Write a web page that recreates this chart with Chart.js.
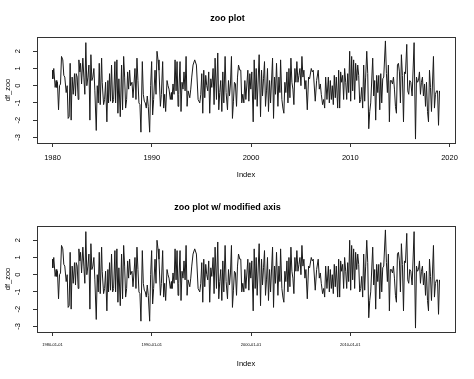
<!DOCTYPE html>
<html><head><meta charset="utf-8">
<script src="https://cdn.jsdelivr.net/npm/chart.js@4/dist/chart.umd.min.js"></script>
<style>
html,body{margin:0;padding:0;background:#fff;}
body{width:474px;height:379px;position:relative;overflow:hidden;}
.p{position:absolute;left:0;width:474px;height:190px;}
</style></head><body>
<div class="p" style="top:0"><canvas id="c1"></canvas></div>
<div class="p" style="top:189px"><canvas id="c2"></canvas></div>
<script>
const startYear = 1980;
const tOffsets = [0,0.03,0.13,0.27,0.37,0.44,0.50,0.61,0.71,0.81,0.91,1.04,1.14,1.24,1.38,1.48,1.58,1.68,1.78,1.88,1.98,2.09,2.22,2.32,2.39,2.49,2.59,2.66,2.76,2.83,2.93,3.06,3.16,3.26,3.36,3.46,3.57,3.67,3.77,3.87,3.97,4.07,4.17,4.27,4.41,4.51,4.61,4.71,4.81,4.95,5.01,5.15,5.25,5.35,5.48,5.58,5.65,5.75,5.85,5.95,6.06,6.16,6.29,6.36,6.49,6.59,6.69,6.83,6.96,7.06,7.17,7.27,7.37,7.47,7.57,7.67,7.77,7.87,8.01,8.11,8.21,8.31,8.41,8.51,8.61,8.71,8.81,8.91,9.05,9.15,9.25,9.35,9.45,9.55,9.65,9.79,9.89,9.99,10.09,10.19,10.33,10.43,10.53,10.63,10.73,10.87,10.97,11.10,11.20,11.30,11.40,11.54,11.64,11.74,11.87,11.98,12.04,12.14,12.25,12.35,12.45,12.55,12.65,12.72,12.85,12.95,13.05,13.15,13.25,13.36,13.46,13.56,13.66,13.83,13.93,14.03,14.16,14.33,14.50,14.67,14.84,14.94,15.04,15.14,15.24,15.34,15.44,15.54,15.64,15.74,15.84,15.95,16.05,16.18,16.28,16.38,16.52,16.65,16.75,16.85,16.95,17.06,17.16,17.26,17.39,17.49,17.63,17.73,17.83,17.93,18.03,18.13,18.23,18.33,18.43,18.54,18.64,18.74,18.87,18.97,19.07,19.17,19.28,19.38,19.48,19.68,19.78,19.88,19.98,20.08,20.22,20.32,20.42,20.52,20.62,20.82,20.96,21.06,21.16,21.26,21.36,21.46,21.56,21.66,21.76,21.87,21.97,22.17,22.27,22.37,22.47,22.57,22.71,22.81,22.91,22.98,23.11,23.21,23.31,23.41,23.51,23.62,23.72,23.82,23.92,24.02,24.12,24.22,24.32,24.42,24.52,24.62,24.73,24.83,24.93,25.03,25.13,25.23,25.33,25.43,25.53,25.67,25.80,25.90,26.07,26.17,26.27,26.47,26.61,26.77,26.88,26.98,27.08,27.21,27.32,27.42,27.52,27.65,27.79,27.89,27.99,28.09,28.19,28.29,28.39,28.49,28.59,28.73,28.83,28.93,29.03,29.13,29.23,29.33,29.43,29.54,29.64,29.74,29.84,29.94,30.04,30.14,30.24,30.34,30.44,30.54,30.65,30.75,30.85,30.95,31.05,31.15,31.25,31.35,31.45,31.55,31.66,31.76,31.86,31.96,32.06,32.26,32.36,32.46,32.56,32.66,32.77,32.87,32.97,33.07,33.17,33.27,33.37,33.54,33.64,33.74,33.84,33.94,34.04,34.14,34.25,34.35,34.45,34.55,34.65,34.75,34.85,34.95,35.05,35.15,35.25,35.36,35.46,35.56,35.69,35.79,35.89,35.99,36.10,36.23,36.43,36.57,36.67,36.77,36.87,36.97,37.07,37.17,37.27,37.37,37.48,37.58,37.68,37.78,37.88,37.98,38.08,38.18,38.38,38.48,38.58,38.69,38.79,38.89,38.99];
const values = [0.9,0.4,1.0,-0.1,0.3,-0.1,0.2,-1.4,0.0,0.1,1.7,1.5,0.6,0.5,-0.4,0.0,-1.9,-1.8,1.3,-2.0,0.5,-0.5,0.7,-0.6,0.7,0.5,-0.8,1.5,0.8,1.3,0.1,1.6,0.5,-0.5,2.5,0.0,0.5,1.2,-2.0,1.8,0.3,0.5,1.0,-0.3,-2.6,0.0,-1.0,1.3,-1.1,1.6,0.2,-1.1,-0.8,0.2,-2.1,0.3,-1.0,0.7,-0.9,1.2,-1.0,-0.8,1.4,-1.0,1.5,-1.6,0.4,-1.8,1.2,-1.4,1.7,0.5,-1.3,-0.8,0.8,-0.2,0.9,0.0,0.2,-0.7,0.1,1.0,-0.8,1.6,0.3,-1.0,-1.1,-2.7,1.4,-0.5,-0.9,-1.0,-1.3,-0.6,-1.2,-2.7,0.0,1.4,-1.7,-0.8,0.9,-0.5,2.0,1.5,0.9,-1.2,-0.5,1.4,-1.3,-0.5,-1.5,0.3,0.0,-0.2,-0.8,-0.4,-0.8,0.1,-0.5,1.5,-0.3,1.4,-1.2,-0.5,1.4,-1.5,0.2,-0.2,0.8,-0.3,1.7,-1.2,-0.3,-0.7,-0.2,0.5,1.2,1.5,1.2,-0.8,-1.0,-0.5,0.7,-1.6,0.9,-0.7,0.6,0.0,-0.3,0.8,-1.6,0.4,-0.1,1.0,-1.1,1.6,-0.8,1.9,-1.4,-0.4,0.3,-1.5,0.8,-1.0,1.7,-0.4,-1.4,0.3,-0.6,0.1,1.7,-1.9,-0.9,0.2,0.1,-1.2,0.5,1.2,0.9,0.9,-1.0,-0.5,-1.0,0.3,-0.8,0.9,-0.9,0.7,-0.2,0.8,-2.1,1.5,-0.8,1.0,-1.2,1.8,-1.8,0.9,-0.6,0.4,1.4,-1.2,-0.3,1.0,-1.5,0.3,-1.0,1.6,-1.9,0.5,-0.5,1.3,-1.2,0.5,-0.4,1.5,-0.8,-1.3,-1.6,0.2,-0.4,0.8,-1.0,1.0,-0.7,1.6,0.2,-0.2,-1.1,1.0,0.2,1.4,0.2,0.6,1.0,0.0,1.7,0.5,0.9,-0.2,0.3,-1.4,0.5,0.4,1.0,0.8,0.9,-0.9,0.3,0.9,-0.2,0.1,-0.5,-1.1,-0.8,-1.3,0.5,-0.8,0.5,-1.0,0.3,-0.8,0.0,-1.1,0.6,-0.7,0.5,-1.3,0.9,-1.3,0.8,0.2,0.6,-0.8,1.0,0.2,-0.8,0.7,-0.4,2.0,-0.9,1.7,-0.3,1.5,-0.8,1.3,0.3,1.2,0.6,-1.0,-0.8,-0.1,-1.3,1.2,-0.9,0.5,2.0,0.7,-2.5,-1.5,-1.0,1.6,-0.6,0.3,-2.0,0.6,-0.4,0.6,-1.4,0.7,-1.0,0.4,0.5,2.6,0.7,-0.4,1.2,-2.1,0.3,0.3,0.1,0.5,-0.2,-1.2,-1.6,1.2,1.3,0.8,-1.0,1.8,0.6,-2.1,0.8,0.7,2.4,-0.3,-0.5,0.3,0.2,-0.6,2.5,-3.1,0.5,0.2,0.3,0.8,-0.5,0.2,0.5,-0.6,0.1,-1.2,0.2,-1.5,-2.1,0.9,-0.1,-1.5,1.7,-1.3,-0.5,-0.3,-0.3,-2.3,-0.3];
const topTicks = [1980,1990,2000,2010,2020];
const topTickLabels = ['1980','1990','2000','2010','2020'];
const bottomTicks = [1980,1990,2000,2010];
const bottomTickLabels = ['1980-01-01','1990-01-01','2000-01-01','2010-01-01'];
const yTicks = [-3,-2,-1,0,1,2];
const yTickLabels = ['-3','-2','-1','0','1','2'];
const titles = ['zoo plot','zoo plot w/ modified axis'];
const yName = 'df_zoo';
const xName = 'Index';

const FONT = '"Liberation Sans", Arial, Helvetica, sans-serif';
const n = Math.min(tOffsets.length, values.length);
const points = [];
for (let i = 0; i < n; i++) points.push({x: startYear + tOffsets[i], y: values[i]});
const xs = points.map(p => p.x), ys = points.map(p => p.y);
const xLo = Math.min(...xs), xHi = Math.max(...xs);
const yLo = Math.min(...ys), yHi = Math.max(...ys);
const xPad = (xHi - xLo) * 0.04, yPad = (yHi - yLo) * 0.04;

const decor = {
  id: 'decor',
  afterDraw(chart) {
    const {ctx, chartArea: a, scales} = chart;
    ctx.save();
    ctx.strokeStyle = '#333';
    ctx.lineWidth = 1;
    ctx.strokeRect(a.left + 0.5, a.top + 0.5, a.right - a.left, a.bottom - a.top);
    ctx.fillStyle = '#000';
    ctx.font = '7.5px ' + FONT;
    ctx.textAlign = 'center';
    ctx.textBaseline = 'middle';
    yTicks.forEach((v, i) => {
      const py = scales.y.getPixelForValue(v);
      ctx.save();
      ctx.translate(18, py);
      ctx.rotate(-Math.PI / 2);
      ctx.fillText(yTickLabels[i], 0, 0);
      ctx.restore();
    });
    ctx.save();
    ctx.translate(8, (a.top + a.bottom) / 2);
    ctx.rotate(-Math.PI / 2);
    ctx.fillText(yName, 0, 0);
    ctx.restore();
    ctx.fillText(xName, (a.left + a.right) / 2, 175);
    ctx.restore();
  }
};

function makeChart(id, title, xt, xl, xFont) {
  return new Chart(document.getElementById(id), {
    type: 'line',
    data: {datasets: [{data: points, borderColor: '#1a1a1a', borderWidth: 1, pointRadius: 0, tension: 0, fill: false}]},
    options: {
      responsive: true, maintainAspectRatio: false, animation: false,
      layout: {padding: {left: 0, right: 19, top: 0, bottom: 0}},
      plugins: {
        legend: {display: false}, tooltip: {enabled: false},
        title: {display: true, text: title, color: '#000',
          font: {family: FONT, size: 9, weight: 'bold', lineHeight: 1.2},
          padding: {top: 13.6, bottom: 12.6}}
      },
      scales: {
        x: {type: 'linear', min: xLo - xPad, max: xHi + xPad,
          afterFit(s) { s.height = 47; },
          afterBuildTicks(s) { s.ticks = xt.map(v => ({value: v})); },
          ticks: {callback: (v, i) => xl[i], font: {family: FONT, size: xFont}, color: '#000', padding: 6, maxRotation: 0, minRotation: 0, autoSkip: false},
          grid: {drawOnChartArea: false, drawTicks: true, tickLength: 4, color: '#333'},
          border: {display: false}},
        y: {type: 'linear', min: yLo - yPad, max: yHi + yPad,
          afterFit(s) { s.width = 37; },
          afterBuildTicks(s) { s.ticks = yTicks.map(v => ({value: v})); },
          ticks: {display: false},
          grid: {drawOnChartArea: false, drawTicks: true, tickLength: 4, color: '#333'},
          border: {display: false}}
      }
    },
    plugins: [decor]
  });
}
makeChart('c1', titles[0], topTicks, topTickLabels, 7.5);
makeChart('c2', titles[1], bottomTicks, bottomTickLabels, 4);
</script>
</body></html>
